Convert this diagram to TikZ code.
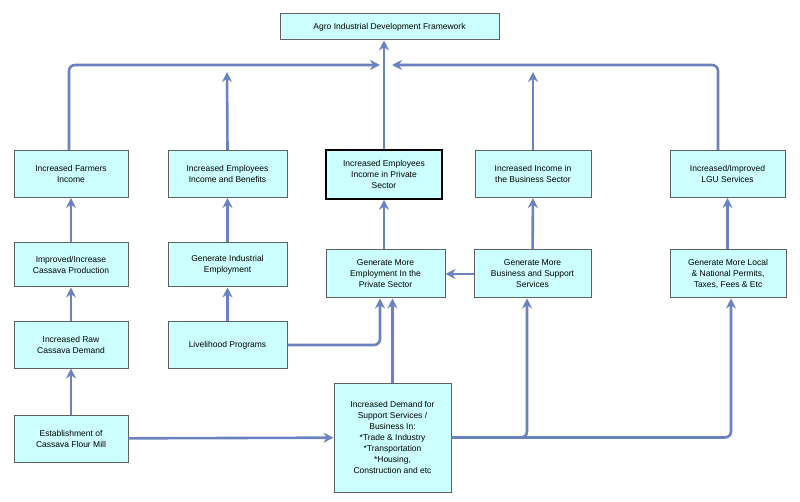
\documentclass[tikz,border=0pt]{standalone}
\usepackage{fontspec}
\setmainfont{Liberation Sans}
\usetikzlibrary{arrows.meta}
\definecolor{bx}{HTML}{CCFFFF}
\definecolor{ar}{HTML}{6A82BF}
\definecolor{bd}{HTML}{606060}
\begin{document}
\begin{tikzpicture}[x=1pt,y=-1pt,
  box/.style={draw=bd,fill=bx,line width=1pt,align=center,inner sep=0pt,font=\fontsize{8.5}{11}\selectfont},
  arr/.style={draw=ar,line width=2.6pt,rounded corners=6pt,-{Stealth[length=10pt,width=10pt]}}]
\useasboundingbox (0,0) rectangle (800,502);
\node[box,minimum width=219pt,minimum height=26pt] (top) at (389.5,27) {Agro Industrial Development Framework};
\node[box,minimum width=114pt,minimum height=47pt] (fi) at (71,174) {Increased Farmers\\Income};
\node[box,minimum width=119pt,minimum height=47pt] (ei) at (227.5,174) {Increased Employees\\Income and Benefits};
\node[box,draw=black,line width=1.6pt,minimum width=116pt,minimum height=49pt] (pi) at (384,174.5) {Increased Employees\\Income in Private\\Sector};
\node[box,minimum width=116pt,minimum height=47pt] (bi) at (533,174) {Increased Income in\\the Business Sector};
\node[box,minimum width=115pt,minimum height=47pt] (li) at (727.5,174) {Increased/Improved\\LGU Services};
\node[box,minimum width=114pt,minimum height=44pt] (cp) at (71,265) {Improved/Increase\\Cassava Production};
\node[box,minimum width=119pt,minimum height=44pt] (ie) at (227.5,265) {Generate Industrial\\Employment};
\node[box,minimum width=119pt,minimum height=48pt] (ge) at (385.5,274) {Generate More\\Employment In the\\Private Sector};
\node[box,minimum width=117pt,minimum height=48pt] (gb) at (532.5,274) {Generate More\\Business and Support\\Services};
\node[box,minimum width=116pt,minimum height=48pt] (gl) at (728,274) {Generate More Local\\\& National Permits,\\Taxes, Fees \& Etc};
\node[box,minimum width=114pt,minimum height=46pt] (rd) at (71,345) {Increased Raw\\Cassava Demand};
\node[box,minimum width=119pt,minimum height=46pt] (lp) at (227.5,345) {Livelihood Programs};
\node[box,minimum width=114pt,minimum height=47pt] (cf) at (71,438.5) {Establishment of\\Cassava Flour Mill};
\node[box,minimum width=117pt,minimum height=109pt] (dm) at (392.5,437.5) {Increased Demand for\\Support Services /\\Business In:\\*Trade \& Industry\\*Transportation\\*Housing,\\Construction and etc};
\coordinate (j1) at (380,65);
\coordinate (j2) at (392,65);
\coordinate (e1) at (227,72);
\coordinate (e2) at (533,72);
\draw[arr] (fi.north -| 69,0) |- (j1);
\draw[arr] (li.north -| 718,0) |- (j2);
\draw[arr] (ei.north) -- (e1);
\draw[arr] (bi.north) -- (e2);
\draw[arr] (pi.north) -- (top.south -| pi.north);
\draw[arr] (cp) -- (fi);
\draw[arr] (ie) -- (ei);
\draw[arr] (ge.north -| pi.north) -- (pi);
\draw[arr] (gb) -- (bi);
\draw[arr] (gl.north -| li) -- (li);
\draw[arr] (rd) -- (cp);
\draw[arr] (lp) -- (ie);
\draw[arr] (cf) -- (rd);
\draw[arr] (gb) -- (ge);
\draw[arr] (lp.east) -| (ge.south -| 380,0);
\draw[arr] (dm.north) -- (ge.south -| dm.north);
\draw[arr] (cf) -- (dm);
\draw[arr] (dm.east) -| (gb.south -| 527,0);
\draw[arr] (dm.east) -| (gl.south -| 731,0);
\end{tikzpicture}
\end{document}
